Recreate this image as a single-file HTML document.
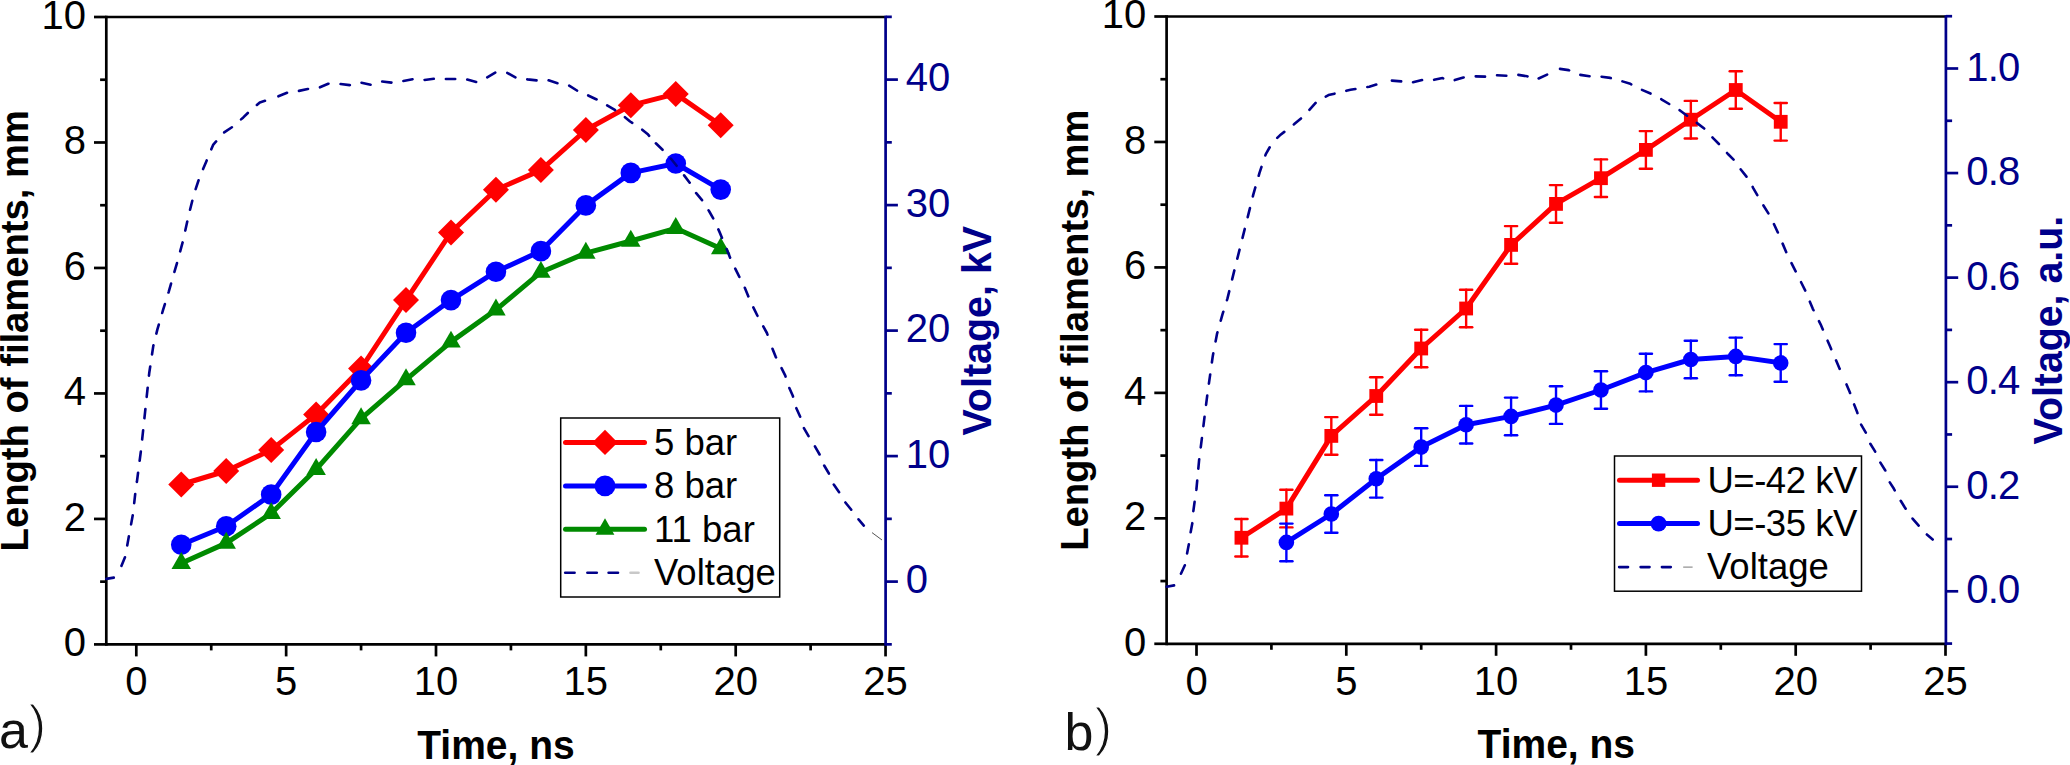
<!DOCTYPE html><html><head><meta charset="utf-8"><title>Length of filaments vs time</title>
<style>html,body{margin:0;padding:0;background:#fff;}body{width:2070px;height:765px;overflow:hidden;}svg{display:block;}</style>
</head><body>
<svg width="2070" height="765" viewBox="0 0 2070 765">
<rect width="2070" height="765" fill="#fff"/>
<g stroke="#000" stroke-width="2.7" fill="none" stroke-linecap="butt">
<line x1="106.3" y1="15.65" x2="106.3" y2="645.75"/>
<line x1="106.3" y1="17" x2="885.6" y2="17"/>
<line x1="106.3" y1="644.4" x2="885.6" y2="644.4"/>
<line x1="94" y1="644.4" x2="106.3" y2="644.4"/>
<line x1="100.1" y1="581.66" x2="106.3" y2="581.66"/>
<line x1="94" y1="518.92" x2="106.3" y2="518.92"/>
<line x1="100.1" y1="456.18" x2="106.3" y2="456.18"/>
<line x1="94" y1="393.44" x2="106.3" y2="393.44"/>
<line x1="100.1" y1="330.7" x2="106.3" y2="330.7"/>
<line x1="94" y1="267.96" x2="106.3" y2="267.96"/>
<line x1="100.1" y1="205.22" x2="106.3" y2="205.22"/>
<line x1="94" y1="142.48" x2="106.3" y2="142.48"/>
<line x1="100.1" y1="79.74" x2="106.3" y2="79.74"/>
<line x1="94" y1="17" x2="106.3" y2="17"/>
<line x1="136.3" y1="644.4" x2="136.3" y2="656.4"/>
<line x1="211.23" y1="644.4" x2="211.23" y2="650.4"/>
<line x1="286.15" y1="644.4" x2="286.15" y2="656.4"/>
<line x1="361.07" y1="644.4" x2="361.07" y2="650.4"/>
<line x1="436" y1="644.4" x2="436" y2="656.4"/>
<line x1="510.93" y1="644.4" x2="510.93" y2="650.4"/>
<line x1="585.85" y1="644.4" x2="585.85" y2="656.4"/>
<line x1="660.78" y1="644.4" x2="660.78" y2="650.4"/>
<line x1="735.7" y1="644.4" x2="735.7" y2="656.4"/>
<line x1="810.62" y1="644.4" x2="810.62" y2="650.4"/>
<line x1="885.55" y1="644.4" x2="885.55" y2="656.4"/>
</g>
<g stroke="#00008a" stroke-width="2.7" fill="none">
<line x1="885.6" y1="15.65" x2="885.6" y2="645.75"/>
<line x1="885.6" y1="581.6" x2="897.9" y2="581.6"/>
<line x1="885.6" y1="456.1" x2="897.9" y2="456.1"/>
<line x1="885.6" y1="330.6" x2="897.9" y2="330.6"/>
<line x1="885.6" y1="205.1" x2="897.9" y2="205.1"/>
<line x1="885.6" y1="79.6" x2="897.9" y2="79.6"/>
<line x1="885.6" y1="644.35" x2="891.8" y2="644.35"/>
<line x1="885.6" y1="518.85" x2="891.8" y2="518.85"/>
<line x1="885.6" y1="393.35" x2="891.8" y2="393.35"/>
<line x1="885.6" y1="267.85" x2="891.8" y2="267.85"/>
<line x1="885.6" y1="142.35" x2="891.8" y2="142.35"/>
<line x1="885.6" y1="16.85" x2="891.8" y2="16.85"/>
</g>
<g font-family="'Liberation Sans', Arial, Helvetica, sans-serif" font-size="40" fill="#000">
<text x="86" y="656.1" text-anchor="end">0</text>
<text x="86" y="530.62" text-anchor="end">2</text>
<text x="86" y="405.14" text-anchor="end">4</text>
<text x="86" y="279.66" text-anchor="end">6</text>
<text x="86" y="154.18" text-anchor="end">8</text>
<text x="86" y="28.7" text-anchor="end">10</text>
<text x="136.3" y="695.3" text-anchor="middle">0</text>
<text x="286.15" y="695.3" text-anchor="middle">5</text>
<text x="436" y="695.3" text-anchor="middle">10</text>
<text x="585.85" y="695.3" text-anchor="middle">15</text>
<text x="735.7" y="695.3" text-anchor="middle">20</text>
<text x="885.55" y="695.3" text-anchor="middle">25</text>
</g>
<g font-family="'Liberation Sans', Arial, Helvetica, sans-serif" font-size="40" fill="#00008a">
<text x="905.8" y="593.1">0</text>
<text x="905.8" y="467.6">10</text>
<text x="905.8" y="342.1">20</text>
<text x="905.8" y="216.6">30</text>
<text x="905.8" y="91.1">40</text>
</g>
<text font-family="'Liberation Sans', Arial, Helvetica, sans-serif" font-size="38.2" font-weight="bold" fill="#000" text-anchor="middle" transform="translate(27.8,330.7) rotate(-90) scale(1,1.025)">Length of filaments, mm</text>
<text font-family="'Liberation Sans', Arial, Helvetica, sans-serif" font-size="39.45" font-weight="bold" fill="#00008a" text-anchor="middle" transform="translate(991.3,330.7) rotate(-90) scale(1,1.025)">Voltage, kV</text>
<text font-family="'Liberation Sans', Arial, Helvetica, sans-serif" font-size="39.0" font-weight="bold" fill="#000" text-anchor="middle" transform="translate(495.95,759.1) scale(1,1.03)">Time, ns</text>
<polyline points="181.25,484.5 226.21,471 271.17,449.9 316.12,414.4 361.07,368.5 406.03,300.1 450.99,232.4 495.94,189.8 540.89,170.1 585.85,130 630.81,105.3 675.76,93.9 720.71,125.2" fill="none" stroke="#ff0000" stroke-width="5.0" stroke-linejoin="round" stroke-linecap="round"/>
<g fill="#ff0000">
<path d="M181.25 471.5L194.25 484.5L181.25 497.5L168.25 484.5Z"/>
<path d="M226.21 458L239.21 471L226.21 484L213.21 471Z"/>
<path d="M271.17 436.9L284.17 449.9L271.17 462.9L258.17 449.9Z"/>
<path d="M316.12 401.4L329.12 414.4L316.12 427.4L303.12 414.4Z"/>
<path d="M361.07 355.5L374.07 368.5L361.07 381.5L348.07 368.5Z"/>
<path d="M406.03 287.1L419.03 300.1L406.03 313.1L393.03 300.1Z"/>
<path d="M450.99 219.4L463.99 232.4L450.99 245.4L437.99 232.4Z"/>
<path d="M495.94 176.8L508.94 189.8L495.94 202.8L482.94 189.8Z"/>
<path d="M540.89 157.1L553.89 170.1L540.89 183.1L527.89 170.1Z"/>
<path d="M585.85 117L598.85 130L585.85 143L572.85 130Z"/>
<path d="M630.81 92.3L643.81 105.3L630.81 118.3L617.81 105.3Z"/>
<path d="M675.76 80.9L688.76 93.9L675.76 106.9L662.76 93.9Z"/>
<path d="M720.71 112.2L733.71 125.2L720.71 138.2L707.71 125.2Z"/>
</g>
<polyline points="181.25,544.8 226.21,526.3 271.17,494.6 316.12,432 361.07,380.4 406.03,332.8 450.99,300.1 495.94,271.7 540.89,251.1 585.85,205.4 630.81,172.9 675.76,163.5 720.71,189.6" fill="none" stroke="#0000ff" stroke-width="5.0" stroke-linejoin="round" stroke-linecap="round"/>
<g fill="#0000ff">
<circle cx="181.25" cy="544.8" r="10.3"/>
<circle cx="226.21" cy="526.3" r="10.3"/>
<circle cx="271.17" cy="494.6" r="10.3"/>
<circle cx="316.12" cy="432" r="10.3"/>
<circle cx="361.07" cy="380.4" r="10.3"/>
<circle cx="406.03" cy="332.8" r="10.3"/>
<circle cx="450.99" cy="300.1" r="10.3"/>
<circle cx="495.94" cy="271.7" r="10.3"/>
<circle cx="540.89" cy="251.1" r="10.3"/>
<circle cx="585.85" cy="205.4" r="10.3"/>
<circle cx="630.81" cy="172.9" r="10.3"/>
<circle cx="675.76" cy="163.5" r="10.3"/>
<circle cx="720.71" cy="189.6" r="10.3"/>
</g>
<polyline points="181.25,563.3 226.21,543.1 271.17,513.4 316.12,469.3 361.07,418.6 406.03,379.6 450.99,341.9 495.94,309.8 540.89,272.2 585.85,253.1 630.81,241 675.76,228.3 720.71,248.5" fill="none" stroke="#008a00" stroke-width="5.0" stroke-linejoin="round" stroke-linecap="round"/>
<g fill="#008a00">
<path d="M181.25 552.04L191 568.93L171.5 568.93Z"/>
<path d="M226.21 531.84L235.96 548.73L216.46 548.73Z"/>
<path d="M271.17 502.14L280.92 519.03L261.42 519.03Z"/>
<path d="M316.12 458.04L325.87 474.93L306.37 474.93Z"/>
<path d="M361.07 407.34L370.82 424.23L351.32 424.23Z"/>
<path d="M406.03 368.34L415.78 385.23L396.28 385.23Z"/>
<path d="M450.99 330.64L460.74 347.53L441.24 347.53Z"/>
<path d="M495.94 298.54L505.69 315.43L486.19 315.43Z"/>
<path d="M540.89 260.94L550.64 277.83L531.14 277.83Z"/>
<path d="M585.85 241.84L595.6 258.73L576.1 258.73Z"/>
<path d="M630.81 229.74L640.56 246.63L621.06 246.63Z"/>
<path d="M675.76 217.04L685.51 233.93L666.01 233.93Z"/>
<path d="M720.71 237.24L730.46 254.13L710.96 254.13Z"/>
</g>
<line x1="106.3" y1="578.9" x2="113.8" y2="577.6" stroke="#00008a" stroke-width="2.6" stroke-linecap="round"/>
<path d="M121.4 565.9 L124.97 557.31M127.22 545.43 L128.89 536.28M131.07 524.38 L132.74 515.23M134.19 503.22 L135.22 493.98M136.87 481.99 L136.9 481.8 L138.07 472.77M139.63 460.77 L140.83 451.55M142.14 439.52 L143.13 430.27M144.41 418.24 L145.1 411.8 L145.4 408.99M146.68 396.96 L147.67 387.71M148.95 375.68 L149.2 373.3 L150.22 366.47M152.01 354.5 L153.3 345.9 L153.44 345.32M156.36 333.57 L157.4 329.4 L158.8 324.6M162.19 312.99 L163 310.2 L164.89 304.09M168.47 292.53 L168.7 291.8 L171.06 283.6M174.41 271.97 L176.99 263.03M180.18 251.36 L182.62 242.39M185.28 230.59 L187.26 221.5M190.04 209.73 L192.3 200.7M195.64 189.08 L198.58 180.26M203.09 169.04 L206.3 161.4 L206.69 160.46M211.3 149.28 L213.1 144.9 L216.13 141.48M224.18 132.45 L231.9 127.27M241.05 119.36 L243.3 117.4 L247.81 112.97M256.87 104.96 L259.8 102.4 L264.95 100.74M278.4 96.31 L287.02 92.8M298.95 90.89 L307.7 89 L308.04 88.97M319.95 87.3 L328.2 83.8 L328.54 83.77M340.58 84.07 L349.7 85.1 L349.81 85.06M361.52 82.71 L370.59 84.8M382.2 81.56 L391.43 82.63M403.39 80.95 L412.53 79.21M424.58 79.93 L433.81 78.79M445.9 79 L455.2 79M467.25 79.48 L476.19 82.01M487.23 77.3 L495.2 72.7 L495.29 72.66M507.24 72.92 L515.41 77.36M527.28 79.37 L527.5 79.4 L536.52 80.35M548.61 80.36 L557.48 83.15M569.17 85.71 L576.9 90.5 L577.09 90.58M588.16 95.47 L596.1 99.2 L596.57 99.45M607.14 105.33 L614.4 109.7 L615.09 110.15M624.95 117.14 L630.1 121.5 L632.26 122.86M642.24 129.67 L647.5 133.9 L649.17 135.82M655.84 143.3 L662.54 149.75M670.82 158.57 L671.4 159.2 L676.65 165.81M684.11 175.34 L689.7 182.7 L689.73 182.75M696.1 193.04 L696.2 193.2 L702.03 200.2M708.58 210.36 L709.3 211.5 L713.21 218.42M718.35 229.37 L719.7 232.4 L722.02 237.91M726.69 249.08 L730.12 257.72M735.24 268.67 L738 274.2 L739.4 276.99M744.81 287.81 L748.37 296.4M753.31 307.44 L757.44 315.77M763.26 326.38 L766.9 333 L767.48 334.65M772.48 348.81 L775.6 356.6 L776.02 357.41M781.54 368.17 L785.3 375.7 L785.56 376.55M789.34 388.03 L792.9 396.1 L793.02 396.56M796.34 408.17 L800.1 416.5 L800.15 416.65M803.91 428.11 L808.56 436.16M814.93 446.45 L819.59 454.5M824.17 465.52 L828.93 473.51M833.78 484.53 L839.12 492.14M845.4 502.45 L851.1 509.5 L851.24 509.69M858.52 519.35 L863.8 525.6" fill="none" stroke="#00008a" stroke-width="2.6" stroke-linecap="round" stroke-linejoin="round"/>
<line x1="872" y1="532.6" x2="882" y2="540" stroke="#555" stroke-width="1"/>
<rect x="560.7" y="418" width="219" height="179" fill="#fff" stroke="#000" stroke-width="1.5"/>
<line x1="565.5" y1="442.4" x2="644.5" y2="442.4" stroke="#ff0000" stroke-width="5.0" stroke-linecap="round"/>
<g fill="#ff0000"><path d="M605 429.7L617.7 442.4L605 455.1L592.3 442.4Z"/></g>
<line x1="565.5" y1="485.9" x2="644.5" y2="485.9" stroke="#0000ff" stroke-width="5.0" stroke-linecap="round"/>
<g fill="#0000ff"><circle cx="605" cy="485.9" r="10.4"/></g>
<line x1="565.5" y1="529.2" x2="644.5" y2="529.2" stroke="#008a00" stroke-width="5.0" stroke-linecap="round"/>
<g fill="#008a00"><path d="M605 518.35L614.4 534.63L595.6 534.63Z"/></g>
<g stroke="#00008a" stroke-width="2.6" stroke-linecap="round">
<line x1="565.2" y1="572.8" x2="574.6" y2="572.8"/>
<line x1="587.4" y1="572.8" x2="596.8" y2="572.8"/>
<line x1="608.6" y1="572.8" x2="618" y2="572.8"/>
</g>
<line x1="630.5" y1="572.8" x2="638.5" y2="572.8" stroke="#c8c8c8" stroke-width="2.6" stroke-linecap="round"/>
<g font-family="'Liberation Sans', Arial, Helvetica, sans-serif" font-size="36.5" fill="#000">
<text x="654" y="455">5 bar</text>
<text x="654" y="498.3">8 bar</text>
<text x="654" y="541.8">11 bar</text>
<text x="654" y="585.1">Voltage</text>
</g>
<text x="-1" y="748.3" font-family="'Liberation Sans', Arial, Helvetica, sans-serif" font-size="52" fill="#111">a<tspan font-size="52" dx="0.8" dy="-6.6" stroke="#fff" stroke-width="1.2">)</tspan></text>
<g stroke="#000" stroke-width="2.7" fill="none" stroke-linecap="butt">
<line x1="1166.6" y1="15.15" x2="1166.6" y2="645.15"/>
<line x1="1166.6" y1="16.5" x2="1945.9" y2="16.5"/>
<line x1="1166.6" y1="643.8" x2="1945.9" y2="643.8"/>
<line x1="1154.3" y1="643.8" x2="1166.6" y2="643.8"/>
<line x1="1160.4" y1="581.07" x2="1166.6" y2="581.07"/>
<line x1="1154.3" y1="518.34" x2="1166.6" y2="518.34"/>
<line x1="1160.4" y1="455.61" x2="1166.6" y2="455.61"/>
<line x1="1154.3" y1="392.88" x2="1166.6" y2="392.88"/>
<line x1="1160.4" y1="330.15" x2="1166.6" y2="330.15"/>
<line x1="1154.3" y1="267.42" x2="1166.6" y2="267.42"/>
<line x1="1160.4" y1="204.69" x2="1166.6" y2="204.69"/>
<line x1="1154.3" y1="141.96" x2="1166.6" y2="141.96"/>
<line x1="1160.4" y1="79.23" x2="1166.6" y2="79.23"/>
<line x1="1154.3" y1="16.5" x2="1166.6" y2="16.5"/>
<line x1="1196.5" y1="643.8" x2="1196.5" y2="655.8"/>
<line x1="1271.4" y1="643.8" x2="1271.4" y2="649.8"/>
<line x1="1346.3" y1="643.8" x2="1346.3" y2="655.8"/>
<line x1="1421.2" y1="643.8" x2="1421.2" y2="649.8"/>
<line x1="1496.1" y1="643.8" x2="1496.1" y2="655.8"/>
<line x1="1571" y1="643.8" x2="1571" y2="649.8"/>
<line x1="1645.9" y1="643.8" x2="1645.9" y2="655.8"/>
<line x1="1720.8" y1="643.8" x2="1720.8" y2="649.8"/>
<line x1="1795.7" y1="643.8" x2="1795.7" y2="655.8"/>
<line x1="1870.6" y1="643.8" x2="1870.6" y2="649.8"/>
<line x1="1945.5" y1="643.8" x2="1945.5" y2="655.8"/>
</g>
<g stroke="#00008a" stroke-width="2.7" fill="none">
<line x1="1945.9" y1="15.15" x2="1945.9" y2="645.15"/>
<line x1="1945.9" y1="591.3" x2="1958.2" y2="591.3"/>
<line x1="1945.9" y1="486.74" x2="1958.2" y2="486.74"/>
<line x1="1945.9" y1="382.18" x2="1958.2" y2="382.18"/>
<line x1="1945.9" y1="277.62" x2="1958.2" y2="277.62"/>
<line x1="1945.9" y1="173.06" x2="1958.2" y2="173.06"/>
<line x1="1945.9" y1="68.5" x2="1958.2" y2="68.5"/>
<line x1="1945.9" y1="643.58" x2="1952.1" y2="643.58"/>
<line x1="1945.9" y1="539.02" x2="1952.1" y2="539.02"/>
<line x1="1945.9" y1="434.46" x2="1952.1" y2="434.46"/>
<line x1="1945.9" y1="329.9" x2="1952.1" y2="329.9"/>
<line x1="1945.9" y1="225.34" x2="1952.1" y2="225.34"/>
<line x1="1945.9" y1="120.78" x2="1952.1" y2="120.78"/>
<line x1="1945.9" y1="16.22" x2="1952.1" y2="16.22"/>
</g>
<g font-family="'Liberation Sans', Arial, Helvetica, sans-serif" font-size="40" fill="#000">
<text x="1146.3" y="655.5" text-anchor="end">0</text>
<text x="1146.3" y="530.04" text-anchor="end">2</text>
<text x="1146.3" y="404.58" text-anchor="end">4</text>
<text x="1146.3" y="279.12" text-anchor="end">6</text>
<text x="1146.3" y="153.66" text-anchor="end">8</text>
<text x="1146.3" y="28.2" text-anchor="end">10</text>
<text x="1196.5" y="694.6" text-anchor="middle">0</text>
<text x="1346.3" y="694.6" text-anchor="middle">5</text>
<text x="1496.1" y="694.6" text-anchor="middle">10</text>
<text x="1645.9" y="694.6" text-anchor="middle">15</text>
<text x="1795.7" y="694.6" text-anchor="middle">20</text>
<text x="1945.5" y="694.6" text-anchor="middle">25</text>
</g>
<g font-family="'Liberation Sans', Arial, Helvetica, sans-serif" font-size="40" fill="#00008a">
<text x="1966.2" y="603.3" textLength="54" lengthAdjust="spacing">0.0</text>
<text x="1966.2" y="498.74" textLength="54" lengthAdjust="spacing">0.2</text>
<text x="1966.2" y="394.18" textLength="54" lengthAdjust="spacing">0.4</text>
<text x="1966.2" y="289.62" textLength="54" lengthAdjust="spacing">0.6</text>
<text x="1966.2" y="185.06" textLength="54" lengthAdjust="spacing">0.8</text>
<text x="1966.2" y="80.5" textLength="54" lengthAdjust="spacing">1.0</text>
</g>
<text font-family="'Liberation Sans', Arial, Helvetica, sans-serif" font-size="38.2" font-weight="bold" fill="#000" text-anchor="middle" transform="translate(1088,330.15) rotate(-90) scale(1,1.025)">Length of filaments, mm</text>
<text font-family="'Liberation Sans', Arial, Helvetica, sans-serif" font-size="39.3" font-weight="bold" fill="#00008a" text-anchor="middle" transform="translate(2062,330.15) rotate(-90) scale(1,1.025)">Voltage, a.u.</text>
<text font-family="'Liberation Sans', Arial, Helvetica, sans-serif" font-size="39.0" font-weight="bold" fill="#000" text-anchor="middle" transform="translate(1556.25,758.1) scale(1,1.03)">Time, ns</text>
<g stroke="#ff0000" stroke-width="2.4" stroke-linecap="round" fill="none">
<line x1="1241.44" y1="518.95" x2="1241.44" y2="556.55"/>
<line x1="1235.34" y1="518.95" x2="1247.54" y2="518.95"/>
<line x1="1235.34" y1="556.55" x2="1247.54" y2="556.55"/>
<line x1="1286.38" y1="489.8" x2="1286.38" y2="527.4"/>
<line x1="1280.28" y1="489.8" x2="1292.48" y2="489.8"/>
<line x1="1280.28" y1="527.4" x2="1292.48" y2="527.4"/>
<line x1="1331.32" y1="417.1" x2="1331.32" y2="454.7"/>
<line x1="1325.22" y1="417.1" x2="1337.42" y2="417.1"/>
<line x1="1325.22" y1="454.7" x2="1337.42" y2="454.7"/>
<line x1="1376.26" y1="377.2" x2="1376.26" y2="414.8"/>
<line x1="1370.16" y1="377.2" x2="1382.36" y2="377.2"/>
<line x1="1370.16" y1="414.8" x2="1382.36" y2="414.8"/>
<line x1="1421.2" y1="329.7" x2="1421.2" y2="367.3"/>
<line x1="1415.1" y1="329.7" x2="1427.3" y2="329.7"/>
<line x1="1415.1" y1="367.3" x2="1427.3" y2="367.3"/>
<line x1="1466.14" y1="289.7" x2="1466.14" y2="327.3"/>
<line x1="1460.04" y1="289.7" x2="1472.24" y2="289.7"/>
<line x1="1460.04" y1="327.3" x2="1472.24" y2="327.3"/>
<line x1="1511.08" y1="226.1" x2="1511.08" y2="263.7"/>
<line x1="1504.98" y1="226.1" x2="1517.18" y2="226.1"/>
<line x1="1504.98" y1="263.7" x2="1517.18" y2="263.7"/>
<line x1="1556.02" y1="185.1" x2="1556.02" y2="222.7"/>
<line x1="1549.92" y1="185.1" x2="1562.12" y2="185.1"/>
<line x1="1549.92" y1="222.7" x2="1562.12" y2="222.7"/>
<line x1="1600.96" y1="159.4" x2="1600.96" y2="197"/>
<line x1="1594.86" y1="159.4" x2="1607.06" y2="159.4"/>
<line x1="1594.86" y1="197" x2="1607.06" y2="197"/>
<line x1="1645.9" y1="131.1" x2="1645.9" y2="168.7"/>
<line x1="1639.8" y1="131.1" x2="1652" y2="131.1"/>
<line x1="1639.8" y1="168.7" x2="1652" y2="168.7"/>
<line x1="1690.84" y1="100.9" x2="1690.84" y2="138.5"/>
<line x1="1684.74" y1="100.9" x2="1696.94" y2="100.9"/>
<line x1="1684.74" y1="138.5" x2="1696.94" y2="138.5"/>
<line x1="1735.78" y1="71.2" x2="1735.78" y2="108.8"/>
<line x1="1729.68" y1="71.2" x2="1741.88" y2="71.2"/>
<line x1="1729.68" y1="108.8" x2="1741.88" y2="108.8"/>
<line x1="1780.72" y1="103" x2="1780.72" y2="140.6"/>
<line x1="1774.62" y1="103" x2="1786.82" y2="103"/>
<line x1="1774.62" y1="140.6" x2="1786.82" y2="140.6"/>
</g>
<polyline points="1241.44,537.75 1286.38,508.6 1331.32,435.9 1376.26,396 1421.2,348.5 1466.14,308.5 1511.08,244.9 1556.02,203.9 1600.96,178.2 1645.9,149.9 1690.84,119.7 1735.78,90 1780.72,121.8" fill="none" stroke="#ff0000" stroke-width="5.0" stroke-linejoin="round" stroke-linecap="round"/>
<g fill="#ff0000">
<rect x="1234.54" y="530.85" width="13.8" height="13.8"/>
<rect x="1279.48" y="501.7" width="13.8" height="13.8"/>
<rect x="1324.42" y="429" width="13.8" height="13.8"/>
<rect x="1369.36" y="389.1" width="13.8" height="13.8"/>
<rect x="1414.3" y="341.6" width="13.8" height="13.8"/>
<rect x="1459.24" y="301.6" width="13.8" height="13.8"/>
<rect x="1504.18" y="238" width="13.8" height="13.8"/>
<rect x="1549.12" y="197" width="13.8" height="13.8"/>
<rect x="1594.06" y="171.3" width="13.8" height="13.8"/>
<rect x="1639" y="143" width="13.8" height="13.8"/>
<rect x="1683.94" y="112.8" width="13.8" height="13.8"/>
<rect x="1728.88" y="83.1" width="13.8" height="13.8"/>
<rect x="1773.82" y="114.9" width="13.8" height="13.8"/>
</g>
<g stroke="#0000ff" stroke-width="2.4" stroke-linecap="round" fill="none">
<line x1="1286.38" y1="523.6" x2="1286.38" y2="561.2"/>
<line x1="1280.28" y1="523.6" x2="1292.48" y2="523.6"/>
<line x1="1280.28" y1="561.2" x2="1292.48" y2="561.2"/>
<line x1="1331.32" y1="495.2" x2="1331.32" y2="532.8"/>
<line x1="1325.22" y1="495.2" x2="1337.42" y2="495.2"/>
<line x1="1325.22" y1="532.8" x2="1337.42" y2="532.8"/>
<line x1="1376.26" y1="460" x2="1376.26" y2="497.6"/>
<line x1="1370.16" y1="460" x2="1382.36" y2="460"/>
<line x1="1370.16" y1="497.6" x2="1382.36" y2="497.6"/>
<line x1="1421.2" y1="428.3" x2="1421.2" y2="465.9"/>
<line x1="1415.1" y1="428.3" x2="1427.3" y2="428.3"/>
<line x1="1415.1" y1="465.9" x2="1427.3" y2="465.9"/>
<line x1="1466.14" y1="405.9" x2="1466.14" y2="443.5"/>
<line x1="1460.04" y1="405.9" x2="1472.24" y2="405.9"/>
<line x1="1460.04" y1="443.5" x2="1472.24" y2="443.5"/>
<line x1="1511.08" y1="397.6" x2="1511.08" y2="435.2"/>
<line x1="1504.98" y1="397.6" x2="1517.18" y2="397.6"/>
<line x1="1504.98" y1="435.2" x2="1517.18" y2="435.2"/>
<line x1="1556.02" y1="386.3" x2="1556.02" y2="423.9"/>
<line x1="1549.92" y1="386.3" x2="1562.12" y2="386.3"/>
<line x1="1549.92" y1="423.9" x2="1562.12" y2="423.9"/>
<line x1="1600.96" y1="371.2" x2="1600.96" y2="408.8"/>
<line x1="1594.86" y1="371.2" x2="1607.06" y2="371.2"/>
<line x1="1594.86" y1="408.8" x2="1607.06" y2="408.8"/>
<line x1="1645.9" y1="353.8" x2="1645.9" y2="391.4"/>
<line x1="1639.8" y1="353.8" x2="1652" y2="353.8"/>
<line x1="1639.8" y1="391.4" x2="1652" y2="391.4"/>
<line x1="1690.84" y1="340.7" x2="1690.84" y2="378.3"/>
<line x1="1684.74" y1="340.7" x2="1696.94" y2="340.7"/>
<line x1="1684.74" y1="378.3" x2="1696.94" y2="378.3"/>
<line x1="1735.78" y1="337.6" x2="1735.78" y2="375.2"/>
<line x1="1729.68" y1="337.6" x2="1741.88" y2="337.6"/>
<line x1="1729.68" y1="375.2" x2="1741.88" y2="375.2"/>
<line x1="1780.72" y1="344.1" x2="1780.72" y2="381.7"/>
<line x1="1774.62" y1="344.1" x2="1786.82" y2="344.1"/>
<line x1="1774.62" y1="381.7" x2="1786.82" y2="381.7"/>
</g>
<polyline points="1286.38,542.4 1331.32,514 1376.26,478.8 1421.2,447.1 1466.14,424.7 1511.08,416.4 1556.02,405.1 1600.96,390 1645.9,372.6 1690.84,359.5 1735.78,356.4 1780.72,362.9" fill="none" stroke="#0000ff" stroke-width="5.0" stroke-linejoin="round" stroke-linecap="round"/>
<g fill="#0000ff">
<circle cx="1286.38" cy="542.4" r="7.8"/>
<circle cx="1331.32" cy="514" r="7.8"/>
<circle cx="1376.26" cy="478.8" r="7.8"/>
<circle cx="1421.2" cy="447.1" r="7.8"/>
<circle cx="1466.14" cy="424.7" r="7.8"/>
<circle cx="1511.08" cy="416.4" r="7.8"/>
<circle cx="1556.02" cy="405.1" r="7.8"/>
<circle cx="1600.96" cy="390" r="7.8"/>
<circle cx="1645.9" cy="372.6" r="7.8"/>
<circle cx="1690.84" cy="359.5" r="7.8"/>
<circle cx="1735.78" cy="356.4" r="7.8"/>
<circle cx="1780.72" cy="362.9" r="7.8"/>
</g>
<line x1="1166.6" y1="586.7" x2="1174.1" y2="585.4" stroke="#00008a" stroke-width="2.6" stroke-linecap="round"/>
<path d="M1180.94 573.72 L1184.84 565.27M1187.06 553.4 L1188.85 544.27M1190.64 532.31 L1192.31 523.16M1193.34 511.11 L1194.6 501.9M1196.32 489.92 L1196.4 489.4 L1197.21 480.66M1198.32 468.62 L1199.1 460.2 L1199.21 459.36M1200.73 447.36 L1201.9 438.2 L1201.91 438.13M1203.39 426.12 L1204.53 416.89M1206.05 404.89 L1207.23 395.66M1208.89 383.68 L1210.1 375.1 L1210.19 374.47M1211.87 362.49 L1212.8 355.9 L1213.3 353.3M1215.57 341.41 L1217 333.9 L1217.45 332.31M1220.72 320.66 L1222.4 314.7 L1223.33 311.73M1226.94 300.19 L1227.5 298.4 L1229.27 291.18M1232.14 279.43 L1234.35 270.4M1237.3 258.66 L1239.56 249.64M1242.51 237.91 L1244.77 228.89M1247.7 217.15 L1249.94 208.12M1252.84 196.37 L1253.2 194.9 L1255.34 187.42M1258.67 175.78 L1259.5 172.9 L1261.5 166.93M1265.35 155.45 L1265.8 154.1 L1269.71 147.27M1277.26 137.94 L1279.9 135.3 L1284.29 131.88M1293.83 124.43 L1294 124.3 L1300.99 118.5M1309.39 109.83 L1315.61 102.91M1325.73 96.54 L1328.5 95.1 L1334.5 93.65M1346.27 90.82 L1350.5 89.8 L1355.38 89M1367.32 87.03 L1369.3 86.7 L1376.28 84.58M1391.9 80.61 L1401.16 81.39M1413.02 82.28 L1422.05 80.06M1434.1 79.83 L1442.5 78.1 L1443.16 78.39M1454.76 80.07 L1463.4 77.5 L1463.69 77.47M1475.72 76.33 L1485.02 76.59M1497.03 75.23 L1506.32 75.69M1518.36 74.87 L1527.2 76.3 L1527.5 76.47M1538.64 78.52 L1547.09 74.65M1559.99 68.88 L1568.6 70.1 L1569.15 70.34M1580.33 74.91 L1589.52 76.31M1601.6 76.71 L1610.2 77.9 L1610.8 78.07M1622.44 81.38 L1630.3 83.8 L1631.25 84.3M1641.98 89.89 L1650.53 93.53M1661.22 99.2 L1661.4 99.3 L1669.19 103.99M1679.57 110.22 L1679.7 110.3 L1687.04 115.75M1696.81 122.89 L1697.1 123.1 L1704.18 128.56M1712.43 137.38 L1713.6 138.7 L1718.93 144.03M1727.05 152.99 L1728.2 154.3 L1733.58 159.61M1740.7 169.34 L1741 169.8 L1746.48 176.62M1752.66 186.97 L1753.1 187.8 L1757.3 195.03M1763.43 205.47 L1768.39 213.33M1773.91 224.07 L1777.83 232.51M1782.61 243.62 L1786.26 252.17M1791.49 263.08 L1795.65 271.4M1801.08 282.21 L1804.9 289.8 L1805.21 290.54M1809.85 301.72 L1812.7 308.6 L1813.53 310.25M1818.97 321.06 L1820.6 324.3 L1822.83 329.52M1827.58 340.65 L1830 346.3 L1831.24 349.2M1836.02 360.32 L1839.4 368.2 L1839.69 368.86M1846.51 384.4 L1849.7 391.9 L1850.07 392.98M1854.1 404.39 L1857.2 412.3 L1857.44 413.07M1861.12 424.58 L1865.8 432.62M1870.32 443.81 L1874.9 451.1 L1875.19 451.73M1880.38 462.66 L1885.3 470.5 L1885.31 470.54M1889.8 482.39 L1893.9 488.8 L1894.72 490.28M1900.72 500.79 L1904.7 507.2 L1905.67 508.66M1912.56 518.59 L1917.6 524.4 L1918.66 525.61M1926.85 534.49 L1932.7 539.5" fill="none" stroke="#00008a" stroke-width="2.6" stroke-linecap="round" stroke-linejoin="round"/>
<rect x="1614.5" y="456" width="247" height="135.2" fill="#fff" stroke="#000" stroke-width="1.5"/>
<line x1="1619.5" y1="480.2" x2="1697.5" y2="480.2" stroke="#ff0000" stroke-width="5.0" stroke-linecap="round"/>
<g fill="#ff0000"><rect x="1651.9" y="473.5" width="13.4" height="13.4"/></g>
<line x1="1619.5" y1="523.6" x2="1697.5" y2="523.6" stroke="#0000ff" stroke-width="5.0" stroke-linecap="round"/>
<g fill="#0000ff"><circle cx="1658.6" cy="523.6" r="7.95"/></g>
<g stroke="#00008a" stroke-width="2.6" stroke-linecap="round">
<line x1="1619.1" y1="567.1" x2="1628" y2="567.1"/>
<line x1="1640.6" y1="567.1" x2="1649.5" y2="567.1"/>
<line x1="1661.9" y1="567.1" x2="1670.8" y2="567.1"/>
</g>
<line x1="1683.2" y1="567.1" x2="1692.6" y2="567.1" stroke="#777" stroke-width="1"/>
<g font-family="'Liberation Sans', Arial, Helvetica, sans-serif" font-size="36.5" fill="#000">
<text x="1707.5" y="492.8" textLength="149.8" lengthAdjust="spacing">U=-42 kV</text>
<text x="1707.5" y="535.9" textLength="149.8" lengthAdjust="spacing">U=-35 kV</text>
<text x="1707" y="579.2">Voltage</text>
</g>
<text x="1064.5" y="750.3" font-family="'Liberation Sans', Arial, Helvetica, sans-serif" font-size="52" fill="#111">b<tspan font-size="52" dx="1.3" dy="-5.6" stroke="#fff" stroke-width="1.2">)</tspan></text>
</svg></body></html>
